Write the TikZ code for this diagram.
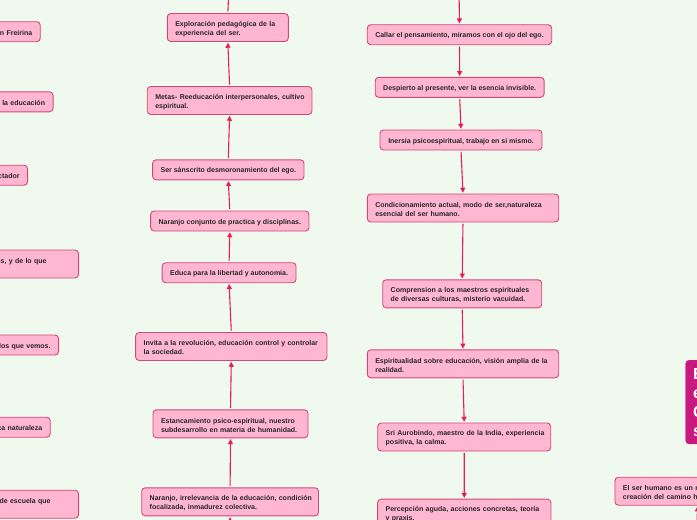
\documentclass[tikz,border=0pt]{standalone}
\usepackage{fontspec}
\setmainfont{Liberation Sans}
\usetikzlibrary{arrows.meta}
\definecolor{paper}{HTML}{F0F9EE}
\definecolor{boxfill}{HTML}{FFB6D0}
\definecolor{boxline}{HTML}{D0487A}
\definecolor{arrowline}{HTML}{EA1A62}
\definecolor{topicfill}{HTML}{C9187F}
\tikzset{
  box/.style={draw=boxline, fill=boxfill, line width=0.9pt, rounded corners=3.5pt, inner xsep=8pt, inner ysep=0pt,
    align=left, font=\fontsize{7}{9}\selectfont\bfseries, text=black!85,
    execute at begin node={\rule{0pt}{7.5pt}}},
  edge/.style={box, align=right},
  conn/.style={draw=arrowline, line width=1.1pt, -{Triangle[length=5pt,width=5pt]}, shorten <=1.5pt, shorten >=0.8pt}
}
\begin{document}
\begin{tikzpicture}[x=1pt,y=-1pt]
\useasboundingbox[fill=paper] (0,0) rectangle (697,520);

% Left column
\node[edge, text width=80pt, minimum height=20pt, anchor=east] (freirina) at (40.7,31.7) {n Freirina};
\node[edge, text width=80pt, minimum height=20pt, anchor=east] (educacion) at (53.5,101.8) {a la educación};
\node[edge, text width=80pt, minimum height=20pt, anchor=east] (lector) at (28,175.2) {ctador};
\node[edge, text width=100pt, minimum height=28pt, anchor=east] (loque) at (79,264) {os, y de lo que\hspace*{24pt}\mbox{}\\~};
\node[edge, text width=80pt, minimum height=20pt, anchor=east] (vemos) at (59,345) {los que vemos.};
\node[edge, text width=80pt, minimum height=20pt, anchor=east] (naturaleza) at (50.7,427.2) {ca naturaleza};
\node[edge, text width=100pt, minimum height=28pt, anchor=east] (escuela) at (79,504.2) {de escuela que\hspace*{20pt}\mbox{}\\~};

% Middle column
\node[box, text width=105pt, minimum height=28pt] (exploracion) at (227.8,27.5) {\mbox{Exploración pedagógica de la}\\experiencia del ser.};
\node[box, text width=148.7pt, minimum height=28pt] (metas) at (229.6,100.5) {\mbox{Metas- Reeducación interpersonales, cultivo}\\espiritual.};
\node[box, minimum width=151.3pt, minimum height=20pt] (sanscrito) at (228.3,169.8) {Ser sánscrito desmoronamiento del ego.};
\node[box, minimum width=158.3pt, minimum height=20pt] (conjunto) at (229.8,221) {Naranjo conjunto de practica y disciplinas.};
\node[box, minimum width=133.7pt, minimum height=20pt] (libertad) at (229.1,272.7) {Educa para la libertad y autonomia.};
\node[box, text width=175.3pt, minimum height=28pt] (revolucion) at (231.3,346.5) {\mbox{Invita a la revolución, educación control y controlar}\\la sociedad.};
\node[box, text width=139pt, minimum height=28pt] (estancamiento) at (230.5,423.8) {\mbox{Estancamiento psico-espiritual, nuestro}\\\mbox{subdesarrollo en materia de humanidad.}};
\node[box, text width=160.8pt, minimum height=28pt] (irrelevancia) at (230.1,501.8) {\mbox{Naranjo, irrelevancia de la educación, condición}\\focalizada, inmadurez colectiva.};
\coordinate (arribaA) at (229,-12);
\coordinate (abajoA) at (230,526);

% Right column
\node[box, minimum width=184.4pt, minimum height=20pt] (callar) at (459.5,34.7) {Callar el pensamiento, miramos con el ojo del ego.};
\node[box, minimum width=168.7pt, minimum height=20pt] (despierto) at (459.7,87.3) {Despierto al presente, ver la esencia invisible.};
\node[box, minimum width=162pt, minimum height=20pt] (inersia) at (461,140) {Inersia psicoespiritual, trabajo en si mismo.};
\node[box, text width=175.4pt, minimum height=28pt] (condicionamiento) at (463,208) {\mbox{Condicionamiento actual, modo de ser,naturaleza}\\esencial del ser humano.};
\node[box, text width=143pt, minimum height=28pt] (maestros) at (462.2,293.8) {\mbox{Comprension a los maestros espirituales}\\\mbox{de diversas culturas, misterio vacuidad.}};
\node[box, text width=175.4pt, minimum height=28pt] (espiritualidad) at (463,363.8) {\mbox{Espiritualidad sobre educación, visión amplia de la}\\realidad.};
\node[box, text width=157pt, minimum height=28pt] (aurobindo) at (464.2,437) {\mbox{Sri Aurobindo, maestro de la India, experiencia}\\positiva, la calma.};
\node[box, text width=157.3pt, minimum height=28pt, anchor=north] (percepcion) at (464.3,498.7) {\mbox{Percepción aguda, acciones concretas, teoría}\\y praxis.};
\coordinate (arribaB) at (459,-12);

% Right edge
\node[draw=topicfill, fill=topicfill, rounded corners=3.5pt, anchor=north west, inner xsep=7.5pt, inner ysep=7.8pt, text width=60pt,
  align=left, text=white, font=\fontsize{16}{19}\selectfont\bfseries] (topic) at (685.5,360) {E\\e\\C\\s};
\node[box, text width=149pt, minimum height=28pt, anchor=west] (creacion) at (614.5,491.2) {El ser humano es un n\\creación del camino ha};
\coordinate (abajoC) at (697,530);

% Arrows
\draw[conn] (exploracion.north) -- (arribaA);
\draw[conn] (metas.north) -- (exploracion.south);
\draw[conn] (sanscrito.north) -- (metas.south);
\draw[conn] (conjunto.north) -- (sanscrito.south);
\draw[conn] (libertad.north) -- (conjunto.south);
\draw[conn] (revolucion.north) -- (libertad.south);
\draw[conn] (estancamiento.north) -- (revolucion.south);
\draw[conn] (irrelevancia.north) -- (estancamiento.south);
\draw[conn] (abajoA) -- (irrelevancia.south);

\draw[conn] (arribaB) -- (callar.north);
\draw[conn] (callar.south) -- (despierto.north);
\draw[conn] (despierto.south) -- (inersia.north);
\draw[conn] (inersia.south) -- (condicionamiento.north);
\draw[conn] (condicionamiento.south) -- (maestros.north);
\draw[conn] (maestros.south) -- (espiritualidad.north);
\draw[conn] (espiritualidad.south) -- (aurobindo.north);
\draw[conn] (aurobindo.south) -- (percepcion.north);
\draw[conn] (abajoC) -- (creacion.south);
\end{tikzpicture}
\end{document}
